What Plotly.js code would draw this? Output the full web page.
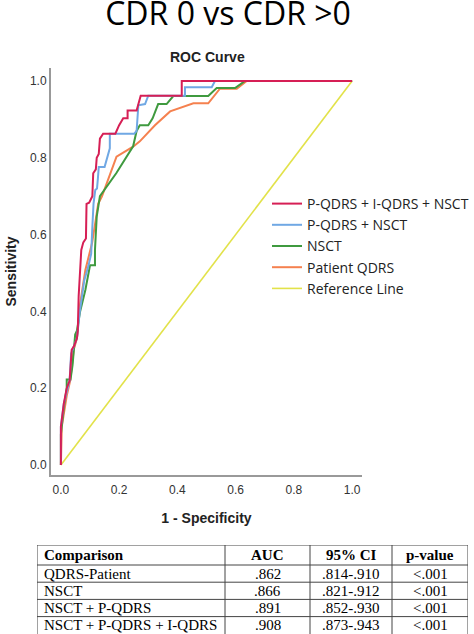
<!DOCTYPE html>
<html>
<head>
<meta charset="utf-8">
<script src="https://cdn.plot.ly/plotly-3.0.1.min.js"></script>
<style>html,body{margin:0;padding:0;background:#fff;}#chart{width:474px;height:634px;}</style>
</head>
<body>
<div id="chart"></div>
<script>
// ROC curves (1 - Specificity, Sensitivity)
const redName = 'P-QDRS + I-QDRS + NSCT';
const redX = [0,0,0.01,0.02,0.03,0.037,0.045,0.055,0.058,0.061,0.07,0.077,0.086,0.088,0.097,0.108,0.111,0.12,0.123,0.13,0.134,0.145,0.187,0.2,0.214,0.229,0.229,0.26,0.274,0.415,0.415,1];
const redY = [0,0.1,0.16,0.2,0.22,0.3,0.31,0.33,0.35,0.44,0.56,0.58,0.59,0.68,0.683,0.70,0.76,0.77,0.80,0.81,0.85,0.863,0.863,0.885,0.903,0.903,0.923,0.923,0.962,0.962,1.0,1.0];

const blueName = 'P-QDRS + NSCT';
const blueX = [0,0,0.01,0.03,0.035,0.045,0.055,0.065,0.08,0.095,0.104,0.108,0.112,0.118,0.124,0.127,0.13,0.15,0.161,0.168,0.168,0.252,0.26,0.266,0.289,0.3,0.426,0.426,0.518,0.529,1];
const blueY = [0,0.1,0.16,0.22,0.29,0.31,0.33,0.4,0.48,0.52,0.55,0.62,0.68,0.716,0.72,0.746,0.776,0.776,0.81,0.825,0.863,0.863,0.87,0.937,0.94,0.962,0.962,0.984,0.984,1.0,1.0];

const greenName = 'NSCT';
const greenX = [0,0,0.01,0.02,0.02,0.033,0.04,0.049,0.055,0.066,0.084,0.1,0.117,0.117,0.123,0.134,0.19,0.248,0.26,0.271,0.3,0.315,0.334,0.363,0.386,0.506,0.535,0.598,0.632,1];
const greenY = [0,0.08,0.15,0.2,0.223,0.223,0.26,0.34,0.35,0.40,0.456,0.52,0.52,0.56,0.647,0.70,0.76,0.83,0.87,0.885,0.885,0.903,0.94,0.94,0.961,0.961,0.982,0.982,1.0,1.0];

const orangeName = 'Patient QDRS';
const orangeX = [0,0.003,0.02,0.032,0.044,0.055,0.061,0.066,0.084,0.107,0.12,0.128,0.141,0.191,0.248,0.271,0.323,0.375,0.455,0.506,0.546,0.604,0.638,1];
const orangeY = [0,0.1,0.18,0.22,0.3,0.33,0.378,0.42,0.508,0.578,0.64,0.68,0.70,0.803,0.829,0.843,0.885,0.921,0.942,0.942,0.98,0.98,1.0,1.0];

const refName = 'Reference Line';
const refX = [0,1];
const refY = [0,1];

// Table
const tableHeader = ['Comparison','AUC','95% CI','p-value'];
const comparisons = ['QDRS-Patient','NSCT','NSCT + P-QDRS','NSCT + P-QDRS + I-QDRS'];
const aucs = ['.862','.866','.891','.908'];
const cis = ['.814-.910','.821-.912','.852-.930','.873-.943'];
const pvals = ['&lt;.001','&lt;.001','&lt;.001','&lt;.001'];

const W = 474, H = 634;
const px = v => v / W;
const py = v => (H - v) / H;

const traces = [
  {x: refX, y: refY, name: refName, mode: 'lines', line: {color: '#e2e24a', width: 1.6}},
  {x: orangeX, y: orangeY, name: orangeName, mode: 'lines', line: {color: '#f5814f', width: 2}},
  {x: greenX, y: greenY, name: greenName, mode: 'lines', line: {color: '#3f9a3f', width: 2}},
  {x: blueX, y: blueY, name: blueName, mode: 'lines', line: {color: '#70a8e4', width: 2}},
  {x: redX, y: redY, name: redName, mode: 'lines', line: {color: '#d61f55', width: 2}}
];

// ---- table drawn on its own axes (x2/y2, units = pixels of the table) ----
const colWidths = [188, 85, 82, 76];
const headerH = 20, rowH = 17.2;
const colEdges = [0];
colWidths.forEach(w => colEdges.push(colEdges[colEdges.length - 1] + w));
const tableW = colEdges[colEdges.length - 1];
const rowEdges = [0, headerH];
comparisons.forEach(() => rowEdges.push(rowEdges[rowEdges.length - 1] + rowH));
const tableH = 89;
const aligns = ['left', 'center', 'center', 'center'];
const tableFont = {family: 'Liberation Serif', size: 15, color: '#000'};
const columns = [comparisons, aucs, cis, pvals];

const shapes = [];
const lineStyle = {color: '#444', width: 1};
rowEdges.slice(0, rowEdges.length - 1).forEach(r => {
  shapes.push({type: 'line', xref: 'x2', yref: 'y2', x0: 0, x1: tableW, y0: r, y1: r, line: lineStyle});
});
colEdges.forEach(c => {
  shapes.push({type: 'line', xref: 'x2', yref: 'y2', x0: c, x1: c, y0: 0, y1: tableH, line: lineStyle});
});

const annotations = [{
  text: '<b>ROC Curve</b>', xref: 'paper', yref: 'paper',
  x: px(207), y: py(57), xanchor: 'center', yanchor: 'middle', showarrow: false,
  font: {family: 'Liberation Sans', size: 14, color: '#222'}
}];
function cellX(ci) {
  return aligns[ci] === 'left' ? colEdges[ci] + 5 : (colEdges[ci] + colEdges[ci + 1]) / 2;
}
tableHeader.forEach((t, ci) => {
  annotations.push({
    text: '<b>' + t + '</b>', xref: 'x2', yref: 'y2',
    x: cellX(ci), y: (rowEdges[0] + rowEdges[1]) / 2,
    xanchor: aligns[ci], yanchor: 'middle', showarrow: false, font: tableFont
  });
});
columns.forEach((col, ci) => {
  col.forEach((v, ri) => {
    annotations.push({
      text: v, xref: 'x2', yref: 'y2',
      x: cellX(ci), y: (rowEdges[ri + 1] + rowEdges[ri + 2]) / 2,
      xanchor: aligns[ci], yanchor: 'middle', showarrow: false, font: tableFont
    });
  });
});

const axisFont = {family: 'Liberation Sans', size: 12, color: '#333'};
const layout = {
  width: W, height: H,
  margin: {l: 0, r: 0, t: 0, b: 0},
  paper_bgcolor: '#fff', plot_bgcolor: '#fff',
  title: {
    text: 'CDR 0 vs CDR >0',
    font: {family: 'Open Sans', size: 32, color: '#000'},
    x: px(228), xanchor: 'center', xref: 'container',
    y: 1 - 14 / H, yanchor: 'middle', yref: 'container'
  },
  xaxis: {
    domain: [px(51), px(362)],
    range: [-0.034, 1.034],
    tickvals: [0, 0.2, 0.4, 0.6, 0.8, 1.0],
    tickformat: '.1f',
    ticks: '', showgrid: false, zeroline: false,
    showline: true, linecolor: '#999', linewidth: 2,
    tickfont: axisFont, ticklabelstandoff: 3,
    title: {text: '<b>1 - Specificity</b>', font: {family: 'Liberation Sans', size: 14, color: '#222'}, standoff: 17}
  },
  yaxis: {
    domain: [py(475), py(68)],
    range: [-0.026, 1.034],
    tickvals: [0, 0.2, 0.4, 0.6, 0.8, 1.0],
    tickformat: '.1f',
    ticks: '', showgrid: false, zeroline: false,
    showline: true, linecolor: '#999', linewidth: 2,
    tickfont: axisFont,
    title: {text: '<b>Sensitivity</b>', font: {family: 'Liberation Sans', size: 14, color: '#222'}, standoff: 10}
  },
  xaxis2: {
    domain: [px(37), px(37 + tableW)], range: [0, tableW], anchor: 'y2',
    visible: false, fixedrange: true
  },
  yaxis2: {
    domain: [0, py(545)], range: [tableH, 0], anchor: 'x2',
    visible: false, fixedrange: true
  },
  shapes: shapes,
  annotations: annotations,
  showlegend: true,
  legend: {
    x: px(267), xanchor: 'left', y: py(188), yanchor: 'top',
    traceorder: 'reversed', tracegroupgap: 0,
    bgcolor: 'rgba(0,0,0,0)', borderwidth: 0,
    font: {family: 'Open Sans', size: 14, color: '#222'}
  }
};

Plotly.newPlot('chart', traces, layout, {displayModeBar: false, staticPlot: true});
</script>
</body>
</html>
